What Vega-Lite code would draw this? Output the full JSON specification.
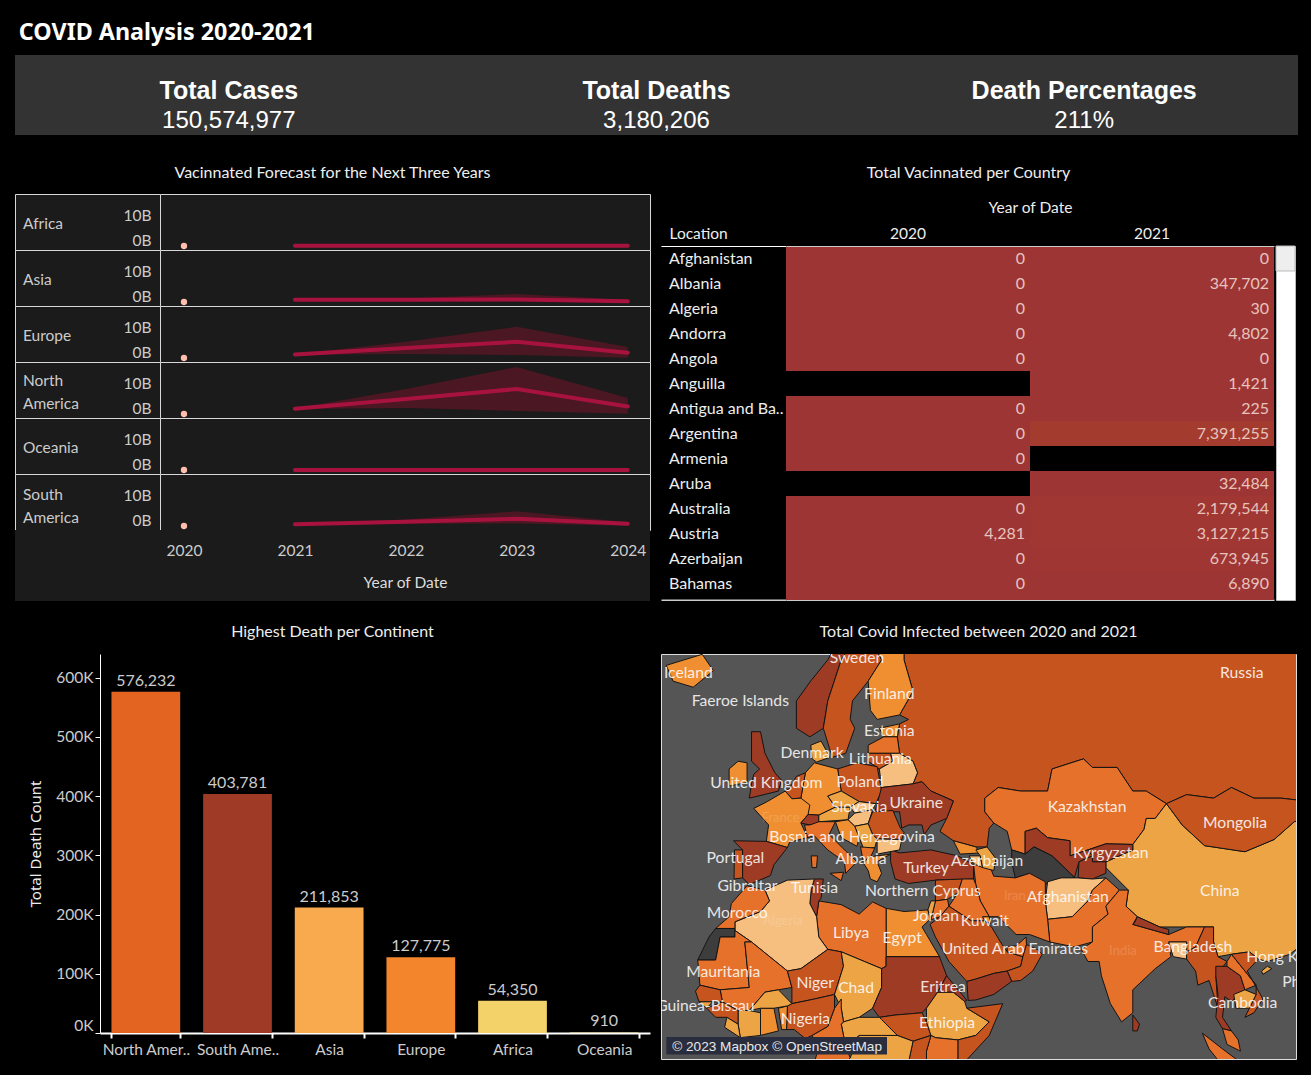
{"$schema":"https://vega.github.io/schema/vega-lite/v6.json","autosize":{"type":"none"},"background":"#000000","padding":{"left":15,"top":15,"right":1296,"bottom":1060},"config":{"font":"Lato","view":{"stroke":null},"axis":{"labelColor":"#cccccc","labelFontSize":15.5,"titleColor":"#dddddd","titleFontSize":15.5,"titleFontWeight":"normal","grid":false,"labelFont":"Lato","titleFont":"Lato"}},"resolve":{"scale":{"color":"independent"}},
"datasets":{"e":[{"t":""}],
"fc":[
{"continent":"Africa","year":2020,"mid":0},{"continent":"Africa","year":2021,"mid":100000000,"low":0,"high":200000000},{"continent":"Africa","year":2022,"mid":100000000,"low":0,"high":200000000},{"continent":"Africa","year":2023,"mid":100000000,"low":0,"high":200000000},{"continent":"Africa","year":2024,"mid":100000000,"low":0,"high":200000000},
{"continent":"Asia","year":2020,"mid":0},{"continent":"Asia","year":2021,"mid":900000000,"low":800000000,"high":1000000000},{"continent":"Asia","year":2022,"mid":950000000,"low":700000000,"high":1400000000},{"continent":"Asia","year":2023,"mid":1000000000,"low":600000000,"high":3200000000},{"continent":"Asia","year":2024,"mid":300000000,"low":0,"high":900000000},
{"continent":"Europe","year":2020,"mid":0},{"continent":"Europe","year":2021,"mid":1400000000,"low":1300000000,"high":1500000000},{"continent":"Europe","year":2022,"mid":4000000000,"low":1600000000,"high":6500000000},{"continent":"Europe","year":2023,"mid":6500000000,"low":1200000000,"high":12500000000},{"continent":"Europe","year":2024,"mid":2100000000,"low":100000000,"high":4400000000},
{"continent":"North America","year":2020,"mid":0},{"continent":"North America","year":2021,"mid":2100000000,"low":2000000000,"high":2200000000},{"continent":"North America","year":2022,"mid":6000000000,"low":2400000000,"high":10000000000},{"continent":"North America","year":2023,"mid":10000000000,"low":1200000000,"high":18800000000},{"continent":"North America","year":2024,"mid":3000000000,"low":100000000,"high":6400000000},
{"continent":"Oceania","year":2020,"mid":0},{"continent":"Oceania","year":2021,"mid":20000000,"low":0,"high":40000000},{"continent":"Oceania","year":2022,"mid":20000000,"low":0,"high":40000000},{"continent":"Oceania","year":2023,"mid":20000000,"low":0,"high":40000000},{"continent":"Oceania","year":2024,"mid":20000000,"low":0,"high":40000000},
{"continent":"South America","year":2020,"mid":0},{"continent":"South America","year":2021,"mid":700000000,"low":600000000,"high":800000000},{"continent":"South America","year":2022,"mid":1700000000,"low":900000000,"high":2600000000},{"continent":"South America","year":2023,"mid":2900000000,"low":1000000000,"high":5900000000},{"continent":"South America","year":2024,"mid":900000000,"low":100000000,"high":1500000000}
]},
"spacing":0,"vconcat":[
{"width":1283,"height":40,"view":{"fill":"#000000"},"data":{"values":[{"t":"COVID Analysis 2020-2021"}]},"mark":{"type":"text","align":"left","dy":-2,"font":"Noto Sans","fontWeight":"bold","fontSize":23.3,"color":"#ffffff"},"encoding":{"x":{"datum":0.003,"type":"quantitative","scale":{"domain":[0,1]},"axis":null},"text":{"field":"t"}}},
{"width":1283,"height":80,"view":{"fill":"#333333"},"data":{"values":[{"k":"Total Cases","v":"150,574,977"},{"k":"Total Deaths","v":"3,180,206"},{"k":"Death Percentages","v":"211%"}]},"encoding":{"x":{"field":"k","type":"nominal","sort":null,"scale":{"paddingInner":0,"paddingOuter":0},"axis":null}},"layer":[{"mark":{"type":"text","dy":-4,"font":"Liberation Sans","fontWeight":"bold","fontSize":25,"color":"#ffffff"},"encoding":{"text":{"field":"k"}}},{"mark":{"type":"text","dy":26,"font":"Liberation Sans","fontSize":24,"color":"#ffffff"},"encoding":{"text":{"field":"v"}}}]},
{"spacing":0,"bounds":"flush","hconcat":[
{"width":646,"height":58,"view":{"fill":"#000000"},"data":{"values":[{"t":"Vacinnated Forecast for the Next Three Years"}]},"mark":{"type":"text","dy":8.5,"dx":-5.5,"fontSize":16,"color":"#eeeeee"},"encoding":{"text":{"field":"t"}}},
{"width":637,"height":58,"view":{"fill":"#000000"},"data":{"values":[{"t":"Total Vacinnated per Country"}]},"mark":{"type":"text","dy":8.5,"dx":-11,"fontSize":16,"color":"#eeeeee"},"encoding":{"text":{"field":"t"}}}
]},
{"spacing":-22,"hconcat":[
{"columns":2,"spacing":0,"bounds":"flush","concat":[
{"width":145,"height":56,"view":{"fill":"#1b1b1b","stroke":"#d8d8d8"},"data":{"values":[{"continent":"Africa"}]},"mark":{"type":"text","align":"left","lineBreak":" ","lineHeight":23,"dy":2,"fontSize":15.5,"color":"#cccccc"},"encoding":{"x":{"datum":0.055,"type":"quantitative","scale":{"domain":[0,1]},"axis":null},"text":{"field":"continent"}}},
{"width":490,"height":56,"view":{"fill":"#1b1b1b","stroke":"#d8d8d8"},"data":{"name":"fc"},"transform":[{"filter":"datum.continent=='Africa'"}],"encoding":{"x":{"field":"year","type":"quantitative","scale":{"domain":[2019.784,2024.2],"nice":false,"zero":false},"axis":null}},"layer":[{"transform":[{"filter":"datum.year>2020"}],"mark":{"type":"area","color":"#4a1723"},"encoding":{"y":{"field":"low","type":"quantitative","scale":{"domain":[-1600000000,20800000000],"nice":false,"zero":false},"axis":{"values":[0,10000000000],"labelExpr":"datum.value/1000000000+'B'","ticks":false,"domain":false,"labelOffset":-6,"labelPadding":9,"title":null}},"y2":{"field":"high"}}},{"transform":[{"filter":"datum.year>2020"}],"mark":{"type":"line","color":"#a8123f","strokeWidth":4,"strokeCap":"round"},"encoding":{"y":{"field":"mid","type":"quantitative"}}},{"transform":[{"filter":"datum.year==2020"}],"mark":{"type":"point","filled":true,"color":"#ffbfae","opacity":1,"size":40},"encoding":{"y":{"field":"mid","type":"quantitative"}}}]},
{"width":145,"height":56,"view":{"fill":"#1b1b1b","stroke":"#d8d8d8"},"data":{"values":[{"continent":"Asia"}]},"mark":{"type":"text","align":"left","lineBreak":" ","lineHeight":23,"dy":2,"fontSize":15.5,"color":"#cccccc"},"encoding":{"x":{"datum":0.055,"type":"quantitative","scale":{"domain":[0,1]},"axis":null},"text":{"field":"continent"}}},
{"width":490,"height":56,"view":{"fill":"#1b1b1b","stroke":"#d8d8d8"},"data":{"name":"fc"},"transform":[{"filter":"datum.continent=='Asia'"}],"encoding":{"x":{"field":"year","type":"quantitative","scale":{"domain":[2019.784,2024.2],"nice":false,"zero":false},"axis":null}},"layer":[{"transform":[{"filter":"datum.year>2020"}],"mark":{"type":"area","color":"#4a1723"},"encoding":{"y":{"field":"low","type":"quantitative","scale":{"domain":[-1600000000,20800000000],"nice":false,"zero":false},"axis":{"values":[0,10000000000],"labelExpr":"datum.value/1000000000+'B'","ticks":false,"domain":false,"labelOffset":-6,"labelPadding":9,"title":null}},"y2":{"field":"high"}}},{"transform":[{"filter":"datum.year>2020"}],"mark":{"type":"line","color":"#a8123f","strokeWidth":4,"strokeCap":"round"},"encoding":{"y":{"field":"mid","type":"quantitative"}}},{"transform":[{"filter":"datum.year==2020"}],"mark":{"type":"point","filled":true,"color":"#ffbfae","opacity":1,"size":40},"encoding":{"y":{"field":"mid","type":"quantitative"}}}]},
{"width":145,"height":56,"view":{"fill":"#1b1b1b","stroke":"#d8d8d8"},"data":{"values":[{"continent":"Europe"}]},"mark":{"type":"text","align":"left","lineBreak":" ","lineHeight":23,"dy":2,"fontSize":15.5,"color":"#cccccc"},"encoding":{"x":{"datum":0.055,"type":"quantitative","scale":{"domain":[0,1]},"axis":null},"text":{"field":"continent"}}},
{"width":490,"height":56,"view":{"fill":"#1b1b1b","stroke":"#d8d8d8"},"data":{"name":"fc"},"transform":[{"filter":"datum.continent=='Europe'"}],"encoding":{"x":{"field":"year","type":"quantitative","scale":{"domain":[2019.784,2024.2],"nice":false,"zero":false},"axis":null}},"layer":[{"transform":[{"filter":"datum.year>2020"}],"mark":{"type":"area","color":"#4a1723"},"encoding":{"y":{"field":"low","type":"quantitative","scale":{"domain":[-1600000000,20800000000],"nice":false,"zero":false},"axis":{"values":[0,10000000000],"labelExpr":"datum.value/1000000000+'B'","ticks":false,"domain":false,"labelOffset":-6,"labelPadding":9,"title":null}},"y2":{"field":"high"}}},{"transform":[{"filter":"datum.year>2020"}],"mark":{"type":"line","color":"#a8123f","strokeWidth":4,"strokeCap":"round"},"encoding":{"y":{"field":"mid","type":"quantitative"}}},{"transform":[{"filter":"datum.year==2020"}],"mark":{"type":"point","filled":true,"color":"#ffbfae","opacity":1,"size":40},"encoding":{"y":{"field":"mid","type":"quantitative"}}}]},
{"width":145,"height":56,"view":{"fill":"#1b1b1b","stroke":"#d8d8d8"},"data":{"values":[{"continent":"North America"}]},"mark":{"type":"text","align":"left","lineBreak":" ","lineHeight":23,"dy":-9,"fontSize":15.5,"color":"#cccccc"},"encoding":{"x":{"datum":0.055,"type":"quantitative","scale":{"domain":[0,1]},"axis":null},"text":{"field":"continent"}}},
{"width":490,"height":56,"view":{"fill":"#1b1b1b","stroke":"#d8d8d8"},"data":{"name":"fc"},"transform":[{"filter":"datum.continent=='North America'"}],"encoding":{"x":{"field":"year","type":"quantitative","scale":{"domain":[2019.784,2024.2],"nice":false,"zero":false},"axis":null}},"layer":[{"transform":[{"filter":"datum.year>2020"}],"mark":{"type":"area","color":"#4a1723"},"encoding":{"y":{"field":"low","type":"quantitative","scale":{"domain":[-1600000000,20800000000],"nice":false,"zero":false},"axis":{"values":[0,10000000000],"labelExpr":"datum.value/1000000000+'B'","ticks":false,"domain":false,"labelOffset":-6,"labelPadding":9,"title":null}},"y2":{"field":"high"}}},{"transform":[{"filter":"datum.year>2020"}],"mark":{"type":"line","color":"#a8123f","strokeWidth":4,"strokeCap":"round"},"encoding":{"y":{"field":"mid","type":"quantitative"}}},{"transform":[{"filter":"datum.year==2020"}],"mark":{"type":"point","filled":true,"color":"#ffbfae","opacity":1,"size":40},"encoding":{"y":{"field":"mid","type":"quantitative"}}}]},
{"width":145,"height":56,"view":{"fill":"#1b1b1b","stroke":"#d8d8d8"},"data":{"values":[{"continent":"Oceania"}]},"mark":{"type":"text","align":"left","lineBreak":" ","lineHeight":23,"dy":2,"fontSize":15.5,"color":"#cccccc"},"encoding":{"x":{"datum":0.055,"type":"quantitative","scale":{"domain":[0,1]},"axis":null},"text":{"field":"continent"}}},
{"width":490,"height":56,"view":{"fill":"#1b1b1b","stroke":"#d8d8d8"},"data":{"name":"fc"},"transform":[{"filter":"datum.continent=='Oceania'"}],"encoding":{"x":{"field":"year","type":"quantitative","scale":{"domain":[2019.784,2024.2],"nice":false,"zero":false},"axis":null}},"layer":[{"transform":[{"filter":"datum.year>2020"}],"mark":{"type":"area","color":"#4a1723"},"encoding":{"y":{"field":"low","type":"quantitative","scale":{"domain":[-1600000000,20800000000],"nice":false,"zero":false},"axis":{"values":[0,10000000000],"labelExpr":"datum.value/1000000000+'B'","ticks":false,"domain":false,"labelOffset":-6,"labelPadding":9,"title":null}},"y2":{"field":"high"}}},{"transform":[{"filter":"datum.year>2020"}],"mark":{"type":"line","color":"#a8123f","strokeWidth":4,"strokeCap":"round"},"encoding":{"y":{"field":"mid","type":"quantitative"}}},{"transform":[{"filter":"datum.year==2020"}],"mark":{"type":"point","filled":true,"color":"#ffbfae","opacity":1,"size":40},"encoding":{"y":{"field":"mid","type":"quantitative"}}}]},
{"width":145,"height":56,"view":{"fill":"#1b1b1b","stroke":"#d8d8d8"},"data":{"values":[{"continent":"South America"}]},"mark":{"type":"text","align":"left","lineBreak":" ","lineHeight":23,"dy":-7,"fontSize":15.5,"color":"#cccccc"},"encoding":{"x":{"datum":0.055,"type":"quantitative","scale":{"domain":[0,1]},"axis":null},"text":{"field":"continent"}}},
{"width":490,"height":56,"view":{"fill":"#1b1b1b","stroke":"#d8d8d8"},"data":{"name":"fc"},"transform":[{"filter":"datum.continent=='South America'"}],"encoding":{"x":{"field":"year","type":"quantitative","scale":{"domain":[2019.784,2024.2],"nice":false,"zero":false},"axis":null}},"layer":[{"transform":[{"filter":"datum.year>2020"}],"mark":{"type":"area","color":"#4a1723"},"encoding":{"y":{"field":"low","type":"quantitative","scale":{"domain":[-1600000000,20800000000],"nice":false,"zero":false},"axis":{"values":[0,10000000000],"labelExpr":"datum.value/1000000000+'B'","ticks":false,"domain":false,"labelOffset":-6,"labelPadding":9,"title":null}},"y2":{"field":"high"}}},{"transform":[{"filter":"datum.year>2020"}],"mark":{"type":"line","color":"#a8123f","strokeWidth":4,"strokeCap":"round"},"encoding":{"y":{"field":"mid","type":"quantitative"}}},{"transform":[{"filter":"datum.year==2020"}],"mark":{"type":"point","filled":true,"color":"#ffbfae","opacity":1,"size":40},"encoding":{"y":{"field":"mid","type":"quantitative"}}}]},
{"width":145,"height":71,"view":{"fill":"#1b1b1b"},"data":{"name":"e"},"mark":"text","encoding":{"text":{"field":"t"}}},
{"width":490,"height":71,"view":{"fill":"#1b1b1b"},"data":{"values":[{"year":2020},{"year":2021},{"year":2022},{"year":2023},{"year":2024}]},"mark":{"type":"tick","opacity":0},"encoding":{"x":{"field":"year","type":"quantitative","scale":{"domain":[2019.784,2024.2],"nice":false,"zero":false},"axis":{"orient":"bottom","offset":-71,"values":[2020,2021,2022,2023,2024],"format":"d","ticks":false,"domain":false,"labelPadding":13,"labelFlush":false,"title":"Year of Date","titlePadding":17}}}}
]},
{"columns":3,"spacing":0,"bounds":"flush","concat":[
{"width":125,"height":52,"view":{"fill":"#000000"},"data":{"name":"e"},"mark":"text","encoding":{"text":{"field":"t"}}},
{"width":490,"height":52,"view":{"fill":"#000000"},"data":{"name":"e"},"mark":"text","encoding":{"text":{"field":"t"}}},
{"width":19,"height":52,"view":{"fill":"#000000"},"data":{"name":"e"},"mark":"text","encoding":{"text":{"field":"t"}}},
{"width":125,"height":354,"data":{"values":[{"Location":"Afghanistan"},{"Location":"Albania"},{"Location":"Algeria"},{"Location":"Andorra"},{"Location":"Angola"},{"Location":"Anguilla"},{"Location":"Antigua and Ba.."},{"Location":"Argentina"},{"Location":"Armenia"},{"Location":"Aruba"},{"Location":"Australia"},{"Location":"Austria"},{"Location":"Azerbaijan"},{"Location":"Bahamas"}]},"encoding":{"y":{"field":"Location","type":"nominal","scale":{"domain":["Afghanistan","Albania","Algeria","Andorra","Angola","Anguilla","Antigua and Ba..","Argentina","Armenia","Aruba","Australia","Austria","Azerbaijan","Bahamas","Bahrain"],"range":[0,375],"paddingInner":0,"paddingOuter":0},"axis":null}},"resolve":{"axis":{"x":"independent"}},"layer":[
{"mark":{"type":"text","align":"left","fontSize":16,"color":"#eeeeee"},"encoding":{"text":{"field":"Location"},"x":{"datum":0.064,"type":"quantitative","scale":{"domain":[0,1]},"axis":{"orient":"top","labels":false,"ticks":false,"domainColor":"#ffffff","title":"Location","titleColor":"#eeeeee","titleAnchor":"start","titleAlign":"left","titleX":8,"titleY":-5}}}},
{"mark":{"type":"text","opacity":0},"encoding":{"text":{"field":"Location"},"x":{"datum":0.064,"type":"quantitative","scale":{"domain":[0,1]},"axis":{"orient":"bottom","labels":false,"ticks":false,"domainColor":"#cccccc","domainWidth":2,"title":null}}}}
]},
{"width":490,"height":354,"data":{"values":[
{"Location":"Afghanistan","Year":"2020","Value":0},{"Location":"Afghanistan","Year":"2021","Value":0},{"Location":"Albania","Year":"2020","Value":0},{"Location":"Albania","Year":"2021","Value":347702},{"Location":"Algeria","Year":"2020","Value":0},{"Location":"Algeria","Year":"2021","Value":30},{"Location":"Andorra","Year":"2020","Value":0},{"Location":"Andorra","Year":"2021","Value":4802},{"Location":"Angola","Year":"2020","Value":0},{"Location":"Angola","Year":"2021","Value":0},{"Location":"Anguilla","Year":"2021","Value":1421},{"Location":"Antigua and Ba..","Year":"2020","Value":0},{"Location":"Antigua and Ba..","Year":"2021","Value":225},{"Location":"Argentina","Year":"2020","Value":0},{"Location":"Argentina","Year":"2021","Value":7391255},{"Location":"Armenia","Year":"2020","Value":0},{"Location":"Aruba","Year":"2021","Value":32484},{"Location":"Australia","Year":"2020","Value":0},{"Location":"Australia","Year":"2021","Value":2179544},{"Location":"Austria","Year":"2020","Value":4281},{"Location":"Austria","Year":"2021","Value":3127215},{"Location":"Azerbaijan","Year":"2020","Value":0},{"Location":"Azerbaijan","Year":"2021","Value":673945},{"Location":"Bahamas","Year":"2020","Value":0},{"Location":"Bahamas","Year":"2021","Value":6890},{"Location":"Bahrain","Year":"2020","Value":0},{"Location":"Bahrain","Year":"2021","Value":0}
]},"encoding":{"y":{"field":"Location","type":"nominal","scale":{"domain":["Afghanistan","Albania","Algeria","Andorra","Angola","Anguilla","Antigua and Ba..","Argentina","Armenia","Aruba","Australia","Austria","Azerbaijan","Bahamas","Bahrain"],"range":[0,375],"paddingInner":0,"paddingOuter":0},"axis":null}},"resolve":{"axis":{"x":"independent"}},"layer":[
{"mark":{"type":"rect","clip":true},"encoding":{"x":{"field":"Year","type":"nominal","scale":{"domain":["2020","2021"],"range":[0,488],"paddingInner":0,"paddingOuter":0},"axis":{"orient":"top","labelAngle":0,"ticks":false,"domainColor":"#cccccc","labelPadding":5,"labelColor":"#eeeeee","title":"Year of Date","titleColor":"#eeeeee","titlePadding":11}},"color":{"field":"Value","type":"quantitative","scale":{"domain":[0,7391255],"range":["#9e3535","#a33b2e"]},"legend":null}}},
{"transform":[{"filter":"datum.Location!='Bahrain'"}],"mark":{"type":"text","align":"right","dx":-5,"fontSize":16,"color":"#e6c4bd"},"encoding":{"x":{"field":"Year","type":"nominal","bandPosition":1,"scale":{"domain":["2020","2021"],"range":[0,488],"paddingInner":0,"paddingOuter":0},"axis":{"orient":"bottom","labels":false,"ticks":false,"domainColor":"#cccccc","domainWidth":2,"title":null}},"text":{"field":"Value","format":","}}}
]},
{"width":19,"height":354,"view":{"fill":"#ffffff","stroke":"#bbbbbb"},"data":{"values":[{"Location":"Afghanistan"}]},"mark":{"type":"rect","color":"#eeeeee","stroke":"#bbbbbb"},"encoding":{"y":{"field":"Location","type":"nominal","scale":{"domain":["Afghanistan","Albania","Algeria","Andorra","Angola","Anguilla","Antigua and Ba..","Argentina","Armenia","Aruba","Australia","Austria","Azerbaijan","Bahamas","Bahrain"],"range":[0,375],"paddingInner":0,"paddingOuter":0},"axis":null}}}
]}
]},
{"spacing":0,"bounds":"flush","hconcat":[
{"width":646,"height":47,"view":{"fill":"#000000"},"data":{"values":[{"t":"Highest Death per Continent"}]},"mark":{"type":"text","dy":7.5,"dx":-5.5,"fontSize":16,"color":"#eeeeee"},"encoding":{"text":{"field":"t"}}},
{"width":635,"height":47,"view":{"fill":"#000000"},"data":{"values":[{"t":"Total Covid Infected between 2020 and 2021"}]},"mark":{"type":"text","dy":7.5,"fontSize":16,"color":"#eeeeee"},"encoding":{"text":{"field":"t"}}}
]},
{"spacing":0,"bounds":"flush","resolve":{"scale":{"color":"independent"}},"hconcat":[
{"width":85,"height":379,"view":{"fill":"#000000"},"data":{"name":"e"},"mark":"text","encoding":{"text":{"field":"t"}}},
{"width":550,"height":379,"data":{"values":[{"continent":"North Amer..","deaths":576232},{"continent":"South Ame..","deaths":403781},{"continent":"Asia","deaths":211853},{"continent":"Europe","deaths":127775},{"continent":"Africa","deaths":54350},{"continent":"Oceania","deaths":910}]},"encoding":{"x":{"field":"continent","type":"nominal","sort":null,"scale":{"paddingInner":0.25,"paddingOuter":0.125},"axis":{"labelAngle":0,"title":null,"domainColor":"#ffffff","domainWidth":2,"tickColor":"#ffffff","tickWidth":2,"tickSize":5,"tickBand":"extent","labelPadding":4,"labelLimit":100}},"y":{"field":"deaths","type":"quantitative","scale":{"domain":[0,640000],"nice":false},"axis":{"values":[0,100000,200000,300000,400000,500000,600000],"labelExpr":"datum.value/1000+'K'","labelFlush":true,"domainColor":"#ffffff","tickColor":"#ffffff","tickSize":5,"title":"Total Death Count","titleFont":"Noto Sans","titleFontSize":15,"titleColor":"#eeeeee","titlePadding":12}}},"layer":[
{"mark":{"type":"bar"},"encoding":{"color":{"field":"continent","type":"nominal","sort":null,"scale":{"domain":["North Amer..","South Ame..","Asia","Europe","Africa","Oceania"],"range":["#e26420","#9e3a26","#f9a94e","#f3862c","#f4d26a","#f7e9a0"]},"legend":null}}},
{"mark":{"type":"text","baseline":"bottom","dy":-3,"fontSize":16,"color":"#cccccc"},"encoding":{"text":{"field":"deaths","format":","}}}
]},
{"width":11,"height":1,"data":{"name":"e"},"mark":"text","encoding":{"text":{"field":"t"}}},
{"width":635,"height":405,"view":{"fill":"#555555","stroke":"#dddddd"},"projection":{"type":"mercator","center":[45.6,40.9],"scale":257,"translate":[317.5,202.5]},"layer":[
{"data":{"values":[
{"type":"Feature","properties":{"name":"Russia","tier":"5"},"geometry":{"type":"Polygon","coordinates":[[[30,70],[70,72],[120,72],[125,53.5],[120,50],[117,49.7],[113,50],[107,50],[102,51.5],[98,50],[92,50.5],[87.5,49.2],[83,51],[80,51],[76.5,54.2],[71,54.2],[69,55.3],[62,54],[61,51],[55,51],[50,51.5],[47,50],[47,48],[49,46.3],[48,45.5],[47.5,42.5],[45,42.5],[40,43.5],[37,45],[38.5,47],[40,49.6],[35,51],[33,52.3],[31,52],[32,53.5],[31,55],[28,56],[27.5,58],[28,59.5],[30,60],[28,60.5],[31,63],[29,66],[29,69],[30,70]]]}},
{"type":"Feature","properties":{"name":"Kazakhstan","tier":"4"},"geometry":{"type":"Polygon","coordinates":[[[50,51.5],[55,51],[61,51],[62,54],[69,55.3],[71,54.2],[76.5,54.2],[80,51],[83,51],[87.5,49.2],[85,47],[83,47],[82.5,45.3],[80,42.9],[74,43],[70,42],[66,41],[66,43.5],[61,44],[58.5,45.5],[56,45],[56,41.3],[53,42],[52,45],[49,46.3],[47,48],[47,50],[50,51.5]]]}},
{"type":"Feature","properties":{"name":"China","tier":"2"},"geometry":{"type":"Polygon","coordinates":[[[87.5,49.2],[91,46],[96,42.7],[105,41.7],[111.5,43.7],[116,46.5],[120,47],[117,49.7],[120,53],[126,53],[135,48],[130,43],[125,40],[121,39],[118,39],[122,37],[119,35],[122,31],[120,26],[115,22.5],[110,21],[108,21.5],[106,23],[102,22.5],[99,22],[98,25],[98,28],[92,28],[86,28],[81,30],[78.5,32],[79,35],[74,39],[74,40],[80,42],[80,42.9],[82.5,45.3],[83,47],[85,47],[87.5,49.2]]]}},
{"type":"Feature","properties":{"name":"Mongolia","tier":"5"},"geometry":{"type":"Polygon","coordinates":[[[87.5,49.2],[92,50.5],[98,50],[102,51.5],[107,50],[113,50],[117,49.7],[120,47],[116,46.5],[111.5,43.7],[105,41.7],[96,42.7],[91,46],[87.5,49.2]]]}},
{"type":"Feature","properties":{"name":"Uzbekistan","tier":"6"},"geometry":{"type":"Polygon","coordinates":[[[56,45],[58.5,45.5],[61,44],[66,43.5],[66,41],[70,42],[71,41],[68,40],[67,37.3],[62,41],[58,42.5],[56,41.3],[56,45]]]}},
{"type":"Feature","properties":{"name":"Turkmenistan","tier":"0"},"geometry":{"type":"Polygon","coordinates":[[[53,42],[56,41.3],[58,42.5],[62,41],[67,37.3],[62,35.5],[57,38],[53.8,37.2],[53,40],[53,42]]]}},
{"type":"Feature","properties":{"name":"Kyrgyzstan","tier":"6"},"geometry":{"type":"Polygon","coordinates":[[[70,42],[74,43],[80,42.9],[80,42],[74,40],[71,40],[71,41],[70,42]]]}},
{"type":"Feature","properties":{"name":"Tajikistan","tier":"6"},"geometry":{"type":"Polygon","coordinates":[[[68,40],[71,41],[71,40],[74,40],[74,38],[71,37],[67.8,37.2],[68,40]]]}},
{"type":"Feature","properties":{"name":"Afghanistan","tier":"1"},"geometry":{"type":"Polygon","coordinates":[[[61,36.5],[64,37.2],[67.8,37.2],[71,37],[74,37.2],[71,35],[70,33],[66.5,30],[61,29.5],[60.5,33],[61,36.5]]]}},
{"type":"Feature","properties":{"name":"Pakistan","tier":"4"},"geometry":{"type":"Polygon","coordinates":[[[71,35],[74,37.2],[77,35],[74,32],[74.5,30.5],[71,28],[71,25],[67,24],[61.5,25],[61,29.5],[66.5,30],[70,33],[71,35]]]}},
{"type":"Feature","properties":{"name":"Iran","tier":"4"},"geometry":{"type":"Polygon","coordinates":[[[44.5,39.5],[48,39.5],[49,37.5],[53.8,37.2],[57,38],[60.5,36.5],[60.5,33],[61,29.5],[61.5,25],[57,26.5],[54,26.5],[50,30],[48,30],[46,33],[45,36],[44.5,39.5]]]}},
{"type":"Feature","properties":{"name":"India","tier":"4"},"geometry":{"type":"Polygon","coordinates":[[[74,32],[77,35],[79,35],[78.5,32],[81,30],[80,28.5],[88,26.5],[92,28],[96,28],[94,24],[92,23],[92,25],[88,25],[88.5,22],[85,19.5],[80,15],[80,10],[77.5,8],[75,12],[73,18],[72.5,21],[70,21],[68.5,23.5],[71,25],[71,28],[74.5,30.5],[74,32]]]}},
{"type":"Feature","properties":{"name":"Nepal","tier":"6"},"geometry":{"type":"Polygon","coordinates":[[[80.5,29],[81,30],[86,28],[88,27.5],[88,26.5],[80,28.5],[80.5,29]]]}},
{"type":"Feature","properties":{"name":"Bangladesh","tier":"1"},"geometry":{"type":"Polygon","coordinates":[[[88,25],[92,25],[92,21.5],[89,22],[88,25]]]}},
{"type":"Feature","properties":{"name":"Myanmar","tier":"5"},"geometry":{"type":"Polygon","coordinates":[[[94,24],[96,28],[98,28],[98,25],[99,22],[101,21],[98.5,18],[99,11],[98,14],[97,17],[94.5,16],[94,19],[92,21.5],[92,23],[94,24]]]}},
{"type":"Feature","properties":{"name":"Thailand","tier":"6"},"geometry":{"type":"Polygon","coordinates":[[[98.5,20],[101,20],[104,18],[105,15],[102,12.5],[100.5,13.5],[100,9],[102,6],[100,6.5],[98.5,9],[99,14],[98.5,18],[98.5,20]]]}},
{"type":"Feature","properties":{"name":"Laos","tier":"4"},"geometry":{"type":"Polygon","coordinates":[[[101,21],[102,22.5],[105,19],[107.5,16],[105,15],[104,18],[101,20],[101,21]]]}},
{"type":"Feature","properties":{"name":"Vietnam","tier":"5"},"geometry":{"type":"Polygon","coordinates":[[[102,22.5],[106,23],[108,21.5],[105.5,19],[109,13],[107,10],[105,9],[106,11],[107.5,14],[107.5,16],[105,19],[102,22.5]]]}},
{"type":"Feature","properties":{"name":"Cambodia","tier":"2"},"geometry":{"type":"Polygon","coordinates":[[[102.5,14],[105,15],[107.5,14],[106,11],[103,11],[102.5,14]]]}},
{"type":"Feature","properties":{"name":"Malaysia","tier":"4"},"geometry":{"type":"Polygon","coordinates":[[[100,6.5],[102,6],[103.5,4],[104,1.5],[101,3],[100,6.5]]]}},
{"type":"Feature","properties":{"name":"Indonesia","tier":"4"},"geometry":{"type":"Polygon","coordinates":[[[95.5,5.5],[100,2],[104,-1],[106,-3.5],[101,-3],[97,2],[95.5,5.5]]]}},
{"type":"Feature","properties":{"name":"Sri Lanka","tier":"6"},"geometry":{"type":"Polygon","coordinates":[[[80,9.5],[81.5,7.5],[81,6],[80,6],[80,9.5]]]}},
{"type":"Feature","properties":{"name":"Hainan","tier":"2"},"geometry":{"type":"Polygon","coordinates":[[[110,20],[111,19.5],[109,18.3],[108.7,19],[110,20]]]}},
{"type":"Feature","properties":{"name":"Philippines","tier":"4"},"geometry":{"type":"Polygon","coordinates":[[[120.5,18.5],[122,18],[124,13],[121,13.5],[120.5,18.5]]]}},
{"type":"Feature","properties":{"name":"Turkey","tier":"6"},"geometry":{"type":"Polygon","coordinates":[[[26,42],[28,41.5],[35,42],[41,41],[44.5,39.5],[44.5,37],[36,36.8],[30,36.2],[27,37],[26,40],[26,42]]]}},
{"type":"Feature","properties":{"name":"Georgia","tier":"3"},"geometry":{"type":"Polygon","coordinates":[[[40,43.5],[45,42.5],[46,41.5],[41.5,41.3],[40,43.5]]]}},
{"type":"Feature","properties":{"name":"Armenia","tier":"1"},"geometry":{"type":"Polygon","coordinates":[[[43.5,41],[46,41],[46.5,39],[44.5,39.7],[43.5,41]]]}},
{"type":"Feature","properties":{"name":"Azerbaijan","tier":"2"},"geometry":{"type":"Polygon","coordinates":[[[45,42],[47.5,42.5],[49.5,40.5],[49,38.5],[46.5,39],[46,41],[45,42]]]}},
{"type":"Feature","properties":{"name":"Syria","tier":"5"},"geometry":{"type":"Polygon","coordinates":[[[36,36.8],[42,37],[41,34.5],[38.7,33.3],[36,33],[36,36.8]]]}},
{"type":"Feature","properties":{"name":"Iraq","tier":"4"},"geometry":{"type":"Polygon","coordinates":[[[42,37],[44.5,37],[45,36],[46,33],[48,30],[47,29.2],[44,29.2],[39,32],[41,34.5],[42,37]]]}},
{"type":"Feature","properties":{"name":"Jordan","tier":"4"},"geometry":{"type":"Polygon","coordinates":[[[36,33],[38.7,33.3],[39,32],[37,30],[35,29.4],[36,33]]]}},
{"type":"Feature","properties":{"name":"Israel","tier":"2"},"geometry":{"type":"Polygon","coordinates":[[[35,33],[36,33],[35,29.4],[34.3,31.3],[35,33]]]}},
{"type":"Feature","properties":{"name":"Saudi Arabia","tier":"5"},"geometry":{"type":"Polygon","coordinates":[[[37,30],[39,32],[44,29.2],[47,29.2],[48.5,28],[50.5,25],[52,23],[55.5,22],[55,20],[52,19],[49,18.5],[45,17.3],[43,16.8],[39,21],[36,26],[34.8,28.5],[37,30]]]}},
{"type":"Feature","properties":{"name":"Kuwait","tier":"3"},"geometry":{"type":"Polygon","coordinates":[[[46.5,30],[48,30],[48.3,28.6],[47,29.2],[46.5,30]]]}},
{"type":"Feature","properties":{"name":"UAE","tier":"4"},"geometry":{"type":"Polygon","coordinates":[[[52,24.1],[54,24.2],[56.2,26],[56.3,24.5],[55.5,22],[52,23],[52,24.1]]]}},
{"type":"Feature","properties":{"name":"Oman","tier":"5"},"geometry":{"type":"Polygon","coordinates":[[[56.3,24.5],[58.7,23.5],[59.8,22.5],[57.7,19],[55,17],[53,16.8],[52,19],[55,20],[55.5,22],[56.3,24.5]]]}},
{"type":"Feature","properties":{"name":"Yemen","tier":"6"},"geometry":{"type":"Polygon","coordinates":[[[43,16.8],[45,17.3],[49,18.5],[52,19],[53,16.8],[49,14],[45,12.8],[43.3,12.7],[43,16.8]]]}},
{"type":"Feature","properties":{"name":"Egypt","tier":"3"},"geometry":{"type":"Polygon","coordinates":[[[25,31.6],[29,31],[32.5,31.2],[34.3,31.3],[34.8,29.5],[33,28],[34,26.5],[36.9,22],[25,22],[25,31.6]]]}},
{"type":"Feature","properties":{"name":"Libya","tier":"4"},"geometry":{"type":"Polygon","coordinates":[[[10,33],[15,32.3],[19,30.5],[22,32.8],[25,31.6],[25,20],[24,19.5],[15,23],[12,23.5],[10,26],[9.5,30],[10,33]]]}},
{"type":"Feature","properties":{"name":"Tunisia","tier":"6"},"geometry":{"type":"Polygon","coordinates":[[[9,37],[11,37],[10.5,33.5],[10,33],[9.5,30],[8,32.5],[8.3,35],[9,37]]]}},
{"type":"Feature","properties":{"name":"Algeria","tier":"1"},"geometry":{"type":"Polygon","coordinates":[[[-2,35],[3,36.8],[9,37],[8.3,35],[8,32.5],[9.5,30],[10,26],[12,23.5],[6,19.5],[3,19],[-5,25],[-8.7,27.3],[-8.7,29],[-3,31],[-1,33],[-2,35]]]}},
{"type":"Feature","properties":{"name":"Morocco","tier":"4"},"geometry":{"type":"Polygon","coordinates":[[[-6,35.8],[-2,35],[-1,33],[-3,31],[-8.7,29],[-8.7,27.7],[-13,27.7],[-10,30],[-9.5,32.5],[-6,35.8]]]}},
{"type":"Feature","properties":{"name":"Western Sahara","tier":"0"},"geometry":{"type":"Polygon","coordinates":[[[-13,27.7],[-8.7,27.7],[-8.7,26],[-12,26],[-13,21.3],[-17,21.3],[-14.5,26],[-13,27.7]]]}},
{"type":"Feature","properties":{"name":"Mauritania","tier":"4"},"geometry":{"type":"Polygon","coordinates":[[[-17,21.3],[-13,21.3],[-12,26],[-8.7,26],[-8.7,27.3],[-5,25],[-6.5,25],[-5.5,15.5],[-12,15],[-16.5,16],[-17,21.3]]]}},
{"type":"Feature","properties":{"name":"Mali","tier":"4"},"geometry":{"type":"Polygon","coordinates":[[[-5,25],[3,19],[4,15.5],[1,15],[-2,14.5],[-5.5,10.5],[-8,10.5],[-11.5,12.4],[-12,15],[-5.5,15.5],[-6.5,25],[-5,25]]]}},
{"type":"Feature","properties":{"name":"Niger","tier":"5"},"geometry":{"type":"Polygon","coordinates":[[[3,19],[6,19.5],[12,23.5],[15,23],[15.5,20],[13.5,14],[9,13],[4,12],[4,15.5],[3,19]]]}},
{"type":"Feature","properties":{"name":"Chad","tier":"2"},"geometry":{"type":"Polygon","coordinates":[[[15,23],[24,19.5],[24,15.5],[22,11],[19,9],[15.5,8],[15,11],[13.5,14],[15.5,20],[15,23]]]}},
{"type":"Feature","properties":{"name":"Sudan","tier":"6"},"geometry":{"type":"Polygon","coordinates":[[[24,19.5],[25,20],[25,22],[36.9,22],[38.5,18],[36.5,14.5],[34,11],[33,10],[27,9.5],[23.5,9],[22,11],[24,15.5],[24,19.5]]]}},
{"type":"Feature","properties":{"name":"South Sudan","tier":"5"},"geometry":{"type":"Polygon","coordinates":[[[23.5,9],[27,9.5],[33,10],[34,8],[35,5],[31,3.7],[27.5,5],[24,8.5],[23.5,9]]]}},
{"type":"Feature","properties":{"name":"Ethiopia","tier":"2"},"geometry":{"type":"Polygon","coordinates":[[[36.5,14.5],[40,14.5],[42.5,12.5],[43,11],[48,8],[45,5],[41,4],[36,4.5],[35,5],[34,8],[34,11],[36.5,14.5]]]}},
{"type":"Feature","properties":{"name":"Eritrea","tier":"6"},"geometry":{"type":"Polygon","coordinates":[[[38.5,18],[43,12.7],[42.5,12.5],[40,14.5],[36.5,14.5],[38.5,18]]]}},
{"type":"Feature","properties":{"name":"Somalia","tier":"5"},"geometry":{"type":"Polygon","coordinates":[[[43,11],[51,12],[48,5],[42,-1.5],[41,-1],[41,4],[45,5],[48,8],[43,11]]]}},
{"type":"Feature","properties":{"name":"Kenya","tier":"4"},"geometry":{"type":"Polygon","coordinates":[[[35,5],[36,4.5],[41,4],[41,-1],[39,-4.5],[34,-1],[34,1.5],[35,5]]]}},
{"type":"Feature","properties":{"name":"Uganda","tier":"5"},"geometry":{"type":"Polygon","coordinates":[[[31,3.7],[35,5],[34,1.5],[34,-1],[30,-1],[31,3.7]]]}},
{"type":"Feature","properties":{"name":"DR Congo","tier":"2"},"geometry":{"type":"Polygon","coordinates":[[[19,5],[24,5],[27.5,5],[31,3.7],[30,-1],[29,-5],[12,-5],[17,0],[19,5]]]}},
{"type":"Feature","properties":{"name":"Central African Republic","tier":"2"},"geometry":{"type":"Polygon","coordinates":[[[15,7.5],[15.5,8],[19,9],[23.5,9],[24,8.5],[27.5,5],[24,5],[19,5],[16,2.5],[15,7.5]]]}},
{"type":"Feature","properties":{"name":"Cameroon","tier":"4"},"geometry":{"type":"Polygon","coordinates":[[[8.5,5],[12,7],[13.5,11],[15,13],[15,11],[15.5,8],[15,7.5],[16,2.5],[10,2.3],[8.5,5]]]}},
{"type":"Feature","properties":{"name":"Nigeria","tier":"5"},"geometry":{"type":"Polygon","coordinates":[[[3,11.5],[4,12],[9,13],[13.5,14],[13.5,11],[12,7],[8.5,5],[7,4.3],[4.5,6.3],[2.8,6.3],[3,11.5]]]}},
{"type":"Feature","properties":{"name":"Benin","tier":"3"},"geometry":{"type":"Polygon","coordinates":[[[1,11],[3,11.5],[2.8,6.3],[1.7,6.3],[1,11]]]}},
{"type":"Feature","properties":{"name":"Ghana","tier":"3"},"geometry":{"type":"Polygon","coordinates":[[[-3,11],[0,11],[1,6],[-3,5],[-3,11]]]}},
{"type":"Feature","properties":{"name":"Burkina Faso","tier":"2"},"geometry":{"type":"Polygon","coordinates":[[[-5.5,10.5],[-2,14.5],[1,15],[4,12],[3,11.5],[0,11],[-3,11],[-5.5,10.5]]]}},
{"type":"Feature","properties":{"name":"Ivory Coast","tier":"2"},"geometry":{"type":"Polygon","coordinates":[[[-8,10.5],[-5.5,10.5],[-3,10],[-3,5],[-7.5,4.5],[-8,7.5],[-8,10.5]]]}},
{"type":"Feature","properties":{"name":"Guinea","tier":"5"},"geometry":{"type":"Polygon","coordinates":[[[-15,11],[-11.5,12.4],[-8,10.5],[-8,7.5],[-10.5,9],[-13,9],[-15,11]]]}},
{"type":"Feature","properties":{"name":"Liberia","tier":"2"},"geometry":{"type":"Polygon","coordinates":[[[-10.5,9],[-8,7.5],[-7.5,4.5],[-11,6.8],[-10.5,9]]]}},
{"type":"Feature","properties":{"name":"Senegal","tier":"5"},"geometry":{"type":"Polygon","coordinates":[[[-16.5,16],[-12,15],[-11.5,12.4],[-16.7,12.4],[-17.5,14.7],[-16.5,16]]]}},
{"type":"Feature","properties":{"name":"Guinea-Bissau","tier":"2"},"geometry":{"type":"Polygon","coordinates":[[[-16.7,12.4],[-13.7,12.4],[-15,11],[-16.7,12.4]]]}},
{"type":"Feature","properties":{"name":"Gabon","tier":"4"},"geometry":{"type":"Polygon","coordinates":[[[10,2.3],[16,2.5],[17,0],[12,-5],[9,-1],[10,2.3]]]}},
{"type":"Feature","properties":{"name":"Norway","tier":"6"},"geometry":{"type":"Polygon","coordinates":[[[5,62],[12,66],[16,69],[25,71],[30,70],[25,69],[20,69],[15,66],[12,62],[11,59],[8,58],[5,59],[5,62]]]}},
{"type":"Feature","properties":{"name":"Sweden","tier":"5"},"geometry":{"type":"Polygon","coordinates":[[[11,59],[12,62],[15,66],[20,69],[24,66],[21,64],[17.5,62],[17,60],[18,59],[16,56],[13,55.5],[11,59]]]}},
{"type":"Feature","properties":{"name":"Finland","tier":"3"},"geometry":{"type":"Polygon","coordinates":[[[20,69],[25,69],[29,69],[29,66],[31,63],[28,60.5],[23,60],[21.5,61],[21,64],[24,66],[20,69]]]}},
{"type":"Feature","properties":{"name":"Estonia","tier":"3"},"geometry":{"type":"Polygon","coordinates":[[[23.5,59],[28,59.5],[27.5,58],[24.5,58],[23.5,59]]]}},
{"type":"Feature","properties":{"name":"Latvia","tier":"4"},"geometry":{"type":"Polygon","coordinates":[[[21,57],[24.5,58],[27.5,58],[28,56],[26,56],[21,56],[21,57]]]}},
{"type":"Feature","properties":{"name":"Lithuania","tier":"5"},"geometry":{"type":"Polygon","coordinates":[[[21,56],[26,56],[26.5,55],[23.5,54],[21,55],[21,56]]]}},
{"type":"Feature","properties":{"name":"Belarus","tier":"1"},"geometry":{"type":"Polygon","coordinates":[[[26,56],[28,56],[31,55],[32,53.5],[31,52],[24,51.5],[23.5,54],[26.5,55],[26,56]]]}},
{"type":"Feature","properties":{"name":"Poland","tier":"5"},"geometry":{"type":"Polygon","coordinates":[[[14.2,54],[18.5,54.8],[23,54.3],[24,51],[22.7,49.2],[19,49.5],[15,51],[14.2,54]]]}},
{"type":"Feature","properties":{"name":"Germany","tier":"3"},"geometry":{"type":"Polygon","coordinates":[[[7,53.5],[9,54.8],[14.2,54],[15,51],[12,50.3],[13.7,48.7],[10,47.5],[7.6,47.6],[6,50],[7,53.5]]]}},
{"type":"Feature","properties":{"name":"Denmark","tier":"2"},"geometry":{"type":"Polygon","coordinates":[[[8.2,57],[10.5,57.5],[12.5,55.5],[9.5,54.9],[8.5,55.3],[8.2,57]]]}},
{"type":"Feature","properties":{"name":"Netherlands","tier":"5"},"geometry":{"type":"Polygon","coordinates":[[[3.5,51.4],[5,53],[7,53.5],[6,50],[4,49.9],[2.5,51],[3.5,51.4]]]}},
{"type":"Feature","properties":{"name":"France","tier":"3"},"geometry":{"type":"Polygon","coordinates":[[[2.5,51],[4,49.9],[6,50],[8,49],[7.6,47.6],[6,46.3],[7.5,44],[3.5,43.3],[3,42.4],[-1.7,43.4],[-1.2,46],[-4.5,48.5],[-1.5,49.5],[2.5,51]]]}},
{"type":"Feature","properties":{"name":"Switzerland","tier":"6"},"geometry":{"type":"Polygon","coordinates":[[[6,46.3],[7.6,47.6],[10,47.5],[10,46.3],[8,46],[6,46.3]]]}},
{"type":"Feature","properties":{"name":"Austria","tier":"2"},"geometry":{"type":"Polygon","coordinates":[[[10,47.5],[13.7,48.7],[17,48.7],[16.5,46.8],[10,46.5],[10,47.5]]]}},
{"type":"Feature","properties":{"name":"Czechia","tier":"2"},"geometry":{"type":"Polygon","coordinates":[[[12,50.3],[15,51],[19,49.5],[17,48.7],[13.7,48.7],[12,50.3]]]}},
{"type":"Feature","properties":{"name":"Slovakia","tier":"1"},"geometry":{"type":"Polygon","coordinates":[[[17,48.7],[19,49.5],[22.7,49.2],[22,48.3],[18,47.8],[17,48.7]]]}},
{"type":"Feature","properties":{"name":"Hungary","tier":"1"},"geometry":{"type":"Polygon","coordinates":[[[16.5,46.8],[18,47.8],[22,48.3],[21,46.2],[18,45.8],[16.5,46.8]]]}},
{"type":"Feature","properties":{"name":"Italy","tier":"4"},"geometry":{"type":"Polygon","coordinates":[[[7.5,44],[6.8,46],[8,46],[10,46.5],[13.7,46.5],[12.3,44.5],[16,41.8],[18.5,40],[16,38],[15.7,40],[12,42],[9,44.3],[7.5,44]]]}},
{"type":"Feature","properties":{"name":"Sicily","tier":"4"},"geometry":{"type":"Polygon","coordinates":[[[12.5,38],[15.5,38.2],[15,36.7],[12.5,38]]]}},
{"type":"Feature","properties":{"name":"Sardinia","tier":"4"},"geometry":{"type":"Polygon","coordinates":[[[8.3,41],[9.7,41],[9.5,39],[8.5,39],[8.3,41]]]}},
{"type":"Feature","properties":{"name":"Spain","tier":"6"},"geometry":{"type":"Polygon","coordinates":[[[-9,43.5],[-1.7,43.4],[3,42.4],[0,39.5],[-0.8,37.6],[-5.5,36],[-7,37.2],[-7,42],[-9,43.5]]]}},
{"type":"Feature","properties":{"name":"Portugal","tier":"5"},"geometry":{"type":"Polygon","coordinates":[[[-8.8,42],[-7,42],[-7,37.2],[-8.9,37],[-8.8,42]]]}},
{"type":"Feature","properties":{"name":"United Kingdom","tier":"6"},"geometry":{"type":"Polygon","coordinates":[[[-5,58.6],[-3,58.6],[-2,56],[0.2,53.5],[1.7,52.5],[1,51],[-3.5,50.3],[-5.5,50],[-5,52],[-4.5,53.3],[-3.2,54],[-5,55],[-5,58.6]]]}},
{"type":"Feature","properties":{"name":"Ireland","tier":"3"},"geometry":{"type":"Polygon","coordinates":[[[-8,55],[-6,54.8],[-6,52.2],[-10,51.7],[-10,54],[-8,55]]]}},
{"type":"Feature","properties":{"name":"Iceland","tier":"3"},"geometry":{"type":"Polygon","coordinates":[[[-24,65.5],[-16,66.5],[-13.5,65],[-18,63.4],[-22.5,64],[-24,65.5]]]}},
{"type":"Feature","properties":{"name":"Ukraine","tier":"6"},"geometry":{"type":"Polygon","coordinates":[[[24,51.5],[31,52],[33,52.3],[35,51],[40,49.6],[38.5,47],[35,46],[33.5,44.5],[33,46],[30,46],[28.5,45.5],[28,48],[22.5,48],[24,51.5]]]}},
{"type":"Feature","properties":{"name":"Romania","tier":"5"},"geometry":{"type":"Polygon","coordinates":[[[21,46.2],[22,48],[26.5,48.2],[28.2,45.5],[29,44.8],[28.5,43.7],[23,43.8],[22,44.5],[21,46.2]]]}},
{"type":"Feature","properties":{"name":"Bulgaria","tier":"1"},"geometry":{"type":"Polygon","coordinates":[[[23,43.8],[28.5,43.7],[28,42],[23,41.3],[23,43.8]]]}},
{"type":"Feature","properties":{"name":"Serbia","tier":"2"},"geometry":{"type":"Polygon","coordinates":[[[18,45.8],[21,46.2],[22,44.5],[23,43.8],[22.5,42.4],[20,42.2],[19,44],[18,45.8]]]}},
{"type":"Feature","properties":{"name":"Croatia","tier":"3"},"geometry":{"type":"Polygon","coordinates":[[[13.7,46.5],[16.5,46.8],[18,45.8],[19,44],[18.5,42.6],[15,44],[13.7,46.5]]]}},
{"type":"Feature","properties":{"name":"North Macedonia","tier":"4"},"geometry":{"type":"Polygon","coordinates":[[[19.3,42.5],[22.5,42.3],[21,40],[20,39.7],[19.3,42.5]]]}},
{"type":"Feature","properties":{"name":"Greece","tier":"3"},"geometry":{"type":"Polygon","coordinates":[[[20,39.7],[21,40.8],[26,41.3],[23,40],[24,38],[23,36.5],[21.5,37],[21,38.5],[20,39.7]]]}}
]},"mark":{"type":"geoshape","stroke":"#141414","strokeWidth":1,"clip":true},"encoding":{"color":{"field":"properties.tier","type":"nominal","scale":{"domain":["0","1","2","3","4","5","6"],"range":["#3d3d3d","#f6bf80","#eda445","#ef8f31","#e6712a","#c6541f","#9e3b24"]},"legend":null}}},
{"data":{"values":[{"n":"France","lon":1.5,"lat":47},{"n":"Algeria","lon":2,"lat":29.1},{"n":"Iran","lon":53.7,"lat":33.9},{"n":"India","lon":77.8,"lat":23.1}]},"mark":{"type":"text","fontSize":13,"color":"#ffffff","opacity":0.15,"clip":true},"encoding":{"longitude":{"field":"lon","type":"quantitative"},"latitude":{"field":"lat","type":"quantitative"},"text":{"field":"n"}}},
{"data":{"values":[{"n":"Sweden","lon":18.5,"lat":66.2},{"n":"Iceland","lon":-19.1,"lat":64.77},{"n":"Faeroe Islands","lon":-7.5,"lat":61.98},{"n":"Finland","lon":25.7,"lat":62.68},{"n":"Russia","lon":104.3,"lat":64.77},{"n":"Estonia","lon":25.7,"lat":58.66},{"n":"Denmark","lon":8.5,"lat":56.04},{"n":"Lithuania","lon":23.7,"lat":55.26},{"n":"United Kingdom","lon":-1.7,"lat":52.1},{"n":"Poland","lon":19.2,"lat":52.26},{"n":"Slovakia","lon":19,"lat":48.7},{"n":"Ukraine","lon":31.7,"lat":49.26},{"n":"Kazakhstan","lon":69.8,"lat":48.7},{"n":"Mongolia","lon":102.8,"lat":46.26},{"n":"Bosnia and Herzegovina","lon":17.4,"lat":44.1},{"n":"Albania","lon":19.4,"lat":40.44},{"n":"Portugal","lon":-8.6,"lat":40.6},{"n":"Turkey","lon":33.9,"lat":38.9},{"n":"Azerbaijan","lon":47.5,"lat":40.14},{"n":"Kyrgyzstan","lon":75.1,"lat":41.48},{"n":"Gibraltar","lon":-5.9,"lat":35.7},{"n":"Tunisia","lon":9,"lat":35.34},{"n":"Northern Cyprus","lon":33.2,"lat":34.8},{"n":"China","lon":99.4,"lat":34.8},{"n":"Afghanistan","lon":65.5,"lat":33.68},{"n":"Morocco","lon":-8.2,"lat":30.68},{"n":"Jordan","lon":36.1,"lat":30.1},{"n":"Kuwait","lon":47,"lat":29.12},{"n":"Libya","lon":17.2,"lat":26.76},{"n":"Egypt","lon":28.6,"lat":25.8},{"n":"United Arab Emirates","lon":53.7,"lat":23.56},{"n":"Bangladesh","lon":93.4,"lat":24},{"n":"Hong Kong","lon":113.9,"lat":21.9},{"n":"Philippines","lon":121.6,"lat":16.66},{"n":"Mauritania","lon":-11.3,"lat":18.8},{"n":"Niger","lon":9.2,"lat":16.4},{"n":"Chad","lon":18.3,"lat":15.32},{"n":"Eritrea","lon":37.7,"lat":15.6},{"n":"Guinea-Bissau","lon":-15.3,"lat":11.46},{"n":"Nigeria","lon":7,"lat":8.6},{"n":"Ethiopia","lon":38.6,"lat":7.74},{"n":"Cambodia","lon":104.5,"lat":12.1}]},"mark":{"type":"text","fontSize":15.7,"color":"#ffffff","opacity":0.85,"clip":true},"encoding":{"longitude":{"field":"lon","type":"quantitative"},"latitude":{"field":"lat","type":"quantitative"},"text":{"field":"n"}}},
{"data":{"values":[{"type":"Feature","properties":{"name":"attribution"},"geometry":{"type":"Polygon","coordinates":[[[-24,4.63],[-12,4.63],[0,4.63],[12,4.63],[25.2,4.63],[25.2,0.74],[12,0.74],[0,0.74],[-12,0.74],[-24,0.74],[-24,4.63]]]}}]},"mark":{"type":"geoshape","fill":"#2a2d3d","stroke":null,"clip":true}},
{"data":{"values":[{"n":"© 2023 Mapbox © OpenStreetMap","lon":0.7,"lat":2.4}]},"mark":{"type":"text","font":"Liberation Sans","fontSize":13.6,"color":"#e8e8e8"},"encoding":{"longitude":{"field":"lon","type":"quantitative"},"latitude":{"field":"lat","type":"quantitative"},"text":{"field":"n"}}}
]}
]}
]}
